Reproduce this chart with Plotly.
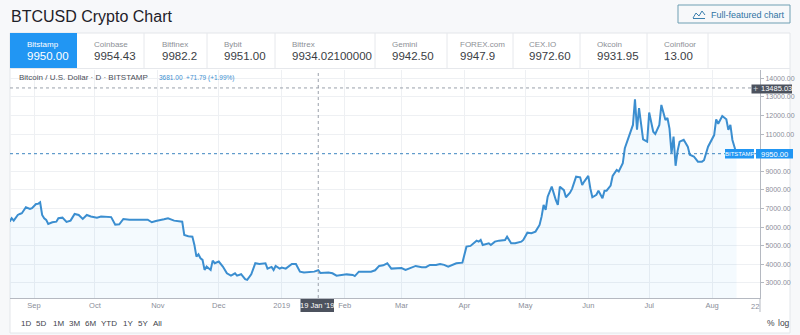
import plotly.graph_objects as go

# ---------------- data ----------------
dates = [
    "2018-08-20", "2018-08-21", "2018-08-22", "2018-08-24", "2018-08-25", "2018-08-26", "2018-08-28",
    "2018-08-30", "2018-08-31", "2018-09-02", "2018-09-03", "2018-09-04", "2018-09-05", "2018-09-06",
    "2018-09-07", "2018-09-08", "2018-09-10", "2018-09-12", "2018-09-13", "2018-09-15", "2018-09-17",
    "2018-09-19", "2018-09-21", "2018-09-23", "2018-09-25", "2018-09-27", "2018-09-29", "2018-10-02",
    "2018-10-04", "2018-10-07", "2018-10-09", "2018-10-11", "2018-10-13", "2018-10-15", "2018-10-18",
    "2018-10-23", "2018-10-27", "2018-10-29", "2018-10-31", "2018-11-04", "2018-11-06", "2018-11-09",
    "2018-11-13", "2018-11-14", "2018-11-16", "2018-11-18", "2018-11-19", "2018-11-20", "2018-11-21",
    "2018-11-22", "2018-11-23", "2018-11-24", "2018-11-25", "2018-11-27", "2018-11-28", "2018-11-29",
    "2018-12-01", "2018-12-03", "2018-12-05", "2018-12-07", "2018-12-09", "2018-12-10", "2018-12-12",
    "2018-12-14", "2018-12-15", "2018-12-17", "2018-12-19", "2018-12-21", "2018-12-24", "2018-12-25",
    "2018-12-27", "2018-12-28", "2018-12-29", "2018-12-31", "2019-01-01", "2019-01-03", "2019-01-06",
    "2019-01-08", "2019-01-10", "2019-01-12", "2019-01-15", "2019-01-17", "2019-01-19", "2019-01-20",
    "2019-01-24", "2019-01-26", "2019-01-28", "2019-02-02", "2019-02-05", "2019-02-06", "2019-02-08",
    "2019-02-10", "2019-02-14", "2019-02-16", "2019-02-18", "2019-02-20", "2019-02-22", "2019-02-24",
    "2019-02-27", "2019-03-01", "2019-03-03", "2019-03-06", "2019-03-08", "2019-03-11", "2019-03-13",
    "2019-03-15", "2019-03-18", "2019-03-20", "2019-03-22", "2019-03-24", "2019-03-28", "2019-03-31",
    "2019-04-02", "2019-04-04", "2019-04-05", "2019-04-07", "2019-04-08", "2019-04-09", "2019-04-10",
    "2019-04-12", "2019-04-13", "2019-04-14", "2019-04-16", "2019-04-18", "2019-04-21", "2019-04-22",
    "2019-04-24", "2019-04-26", "2019-04-29", "2019-04-30", "2019-05-02", "2019-05-04", "2019-05-06",
    "2019-05-08", "2019-05-09", "2019-05-10", "2019-05-11", "2019-05-12", "2019-05-14", "2019-05-16",
    "2019-05-17", "2019-05-18", "2019-05-20", "2019-05-21", "2019-05-23", "2019-05-24", "2019-05-26",
    "2019-05-28", "2019-05-29", "2019-05-30", "2019-06-01", "2019-06-02", "2019-06-03", "2019-06-05",
    "2019-06-06", "2019-06-08", "2019-06-09", "2019-06-10", "2019-06-12", "2019-06-13", "2019-06-15",
    "2019-06-16", "2019-06-18", "2019-06-19", "2019-06-21", "2019-06-23", "2019-06-24", "2019-06-25",
    "2019-06-26", "2019-06-27", "2019-06-28", "2019-06-30", "2019-07-01", "2019-07-03", "2019-07-04",
    "2019-07-06", "2019-07-07", "2019-07-09", "2019-07-10", "2019-07-11", "2019-07-12", "2019-07-13",
    "2019-07-14", "2019-07-15", "2019-07-16", "2019-07-18", "2019-07-20", "2019-07-21", "2019-07-23",
    "2019-07-25", "2019-07-27", "2019-07-28", "2019-07-30", "2019-08-02", "2019-08-03", "2019-08-04",
    "2019-08-06", "2019-08-08", "2019-08-09", "2019-08-10", "2019-08-11", "2019-08-13",
]
prices = [
    6296, 6480, 6350, 6656, 6710, 6747, 7070,
    6980, 7020, 7247, 7260, 7340, 6656, 6480,
    6390, 6172, 6263, 6296, 6478, 6510, 6280,
    6350, 6710, 6656, 6440, 6656, 6570, 6510,
    6570, 6570, 6540, 6136, 6150, 6440, 6400,
    6400, 6400, 6263, 6330, 6420, 6478, 6350,
    6296, 5580, 5510, 5490, 5043, 4414, 4540,
    4328, 4240, 3700, 3880, 3700, 4200, 4060,
    4150, 3880, 3520, 3393, 3520, 3393, 3470,
    3198, 3161, 3460, 4059, 4021, 4059, 3770,
    3860, 3700, 3914, 3770, 3830, 3770, 4021,
    4021, 3608, 3560, 3608, 3608, 3681, 3540,
    3560, 3520, 3393, 3460, 3430, 3370, 3608,
    3608, 3608, 3680, 3914, 3950, 4059, 3770,
    3790, 3800, 3700, 3830, 3914, 3850, 3850,
    3968, 3968, 4021, 3970, 3876, 4059, 4091,
    4952, 4990, 5080, 5274, 5220, 5312, 5043,
    5100, 5134, 5043, 5220, 5274, 5310, 5490,
    5134, 5134, 5220, 5312, 5704, 5670, 5760,
    6118, 6565, 7194, 6925, 7640, 8177, 7460,
    7194, 8177, 7990, 7608, 7850, 8060, 8715,
    8680, 8269, 8450, 8753, 8090, 7608, 7740,
    7962, 7554, 7960, 7960, 8230, 8753, 9075,
    8990, 9435, 10242, 10866, 11495, 12876, 11237,
    12403, 11670, 10725, 10597, 12167, 11134, 11010,
    11495, 12570, 11760, 11870, 11300, 9983, 10866,
    9300, 10100, 10597, 10700, 10330, 9892, 9800,
    9521, 9521, 9600, 10328, 10950, 11790, 11560,
    11978, 11800, 11237, 11495, 10688, 9950,
]

exchanges = ["Bitstamp", "Coinbase", "Bitfinex", "Bybit", "Bittrex", "Gemini",
             "FOREX.com", "CEX.IO", "Okcoin", "Coinfloor"]
exchange_prices = ["9950.00", "9954.43", "9982.2", "9951.00", "9934.02100000", "9942.50",
                   "9947.9", "9972.60", "9931.95", "13.00"]

month_ticks = ["2018-09-01", "2018-10-01", "2018-11-01", "2018-12-01", "2019-01-01", "2019-02-01",
               "2019-03-01", "2019-04-01", "2019-05-01", "2019-06-01", "2019-07-01", "2019-08-01"]
month_labels = ["Sep", "Oct", "Nov", "Dec", "2019", "Feb", "Mar", "Apr", "May", "Jun", "Jul", "Aug"]
end_tick = "2019-08-22"
end_label = "22"
# 10000 label is hidden behind the last-price marker in the reference
y_ticks = [3000, 4000, 5000, 6000, 7000, 8000, 9000, 11000, 12000, 13000, 14000]
y_labels = [f"{v:.2f}" for v in y_ticks]

last_price = 9950.00
cross_date = "2019-01-19"
cross_date_label = "19 Jan '19"
cross_price = 13485.03
legend_title = "Bitcoin / U.S. Dollar · D · BITSTAMP"
legend_vals = "3681.00  +71.79 (+1.99%)"
ranges = ["1D", "5D", "1M", "3M", "6M", "YTD", "1Y", "5Y", "All"]

# ---------------- layout helpers ----------------
W, H = 800, 335
FONT = "Liberation Sans"
LINE = "#3b8ed0"
GRID = "#eef0f3"
AXC = "#8a8e99"


def px(x):
    return x / W


def py(y):
    return 1 - y / H


PLOT_L, PLOT_R, PLOT_T, PLOT_B = 10, 760, 70, 298

fig = go.Figure()
fig.add_trace(go.Scatter(
    x=dates, y=prices, mode="lines",
    line=dict(color=LINE, width=2),
    fill="tozeroy", fillcolor="rgba(33,150,243,0.05)",
    hoverinfo="skip", showlegend=False,
))

shapes = []
annos = []

# page panel
shapes.append(dict(type="rect", xref="paper", yref="paper", x0=px(10), x1=px(790), y0=py(333), y1=py(33),
                   fillcolor="white", line=dict(color="#e3e6ea", width=1), layer="below"))

# tabs
tab_edges = [10, 77, 144, 207, 275, 375, 447, 513, 580, 647, 708, 790]
text_x = [25, 92, 160, 222, 290, 390, 458, 527, 595, 662]
shapes.append(dict(type="rect", xref="paper", yref="paper", x0=px(tab_edges[0]), x1=px(tab_edges[1]),
                   y0=py(68), y1=py(33), fillcolor="#2196f3", line=dict(width=0), layer="below"))
for e in tab_edges[2:-1]:
    shapes.append(dict(type="line", xref="paper", yref="paper", x0=px(e), x1=px(e), y0=py(68), y1=py(33),
                       line=dict(color="#e6e8ec", width=1), layer="below"))
shapes.append(dict(type="line", xref="paper", yref="paper", x0=px(10), x1=px(790), y0=py(68.5), y1=py(68.5),
                   line=dict(color="#e6e8ec", width=1), layer="below"))
for i, (n, v) in enumerate(zip(exchanges, exchange_prices)):
    sel = i == 0
    annos.append(dict(x=px(text_x[i]), y=py(44), text=n, showarrow=False, xanchor="left", yanchor="middle",
                      font=dict(family=FONT, size=8, color="white" if sel else "#8c8f96")))
    annos.append(dict(x=px(text_x[i]), y=py(56), text=v, showarrow=False, xanchor="left", yanchor="middle",
                      font=dict(family=FONT, size=11.5, color="white" if sel else "#3a3d44")))

# title
annos.append(dict(x=px(9), y=py(17), text="BTCUSD Crypto Chart", showarrow=False, xanchor="left",
                  yanchor="middle", font=dict(family=FONT, size=16, color="#1e2128")))

# full-featured button
shapes.append(dict(type="rect", xref="paper", yref="paper", x0=px(678), x1=px(790), y0=py(23), y1=py(5),
                   fillcolor="rgba(0,0,0,0)", line=dict(color="#6f9fb3", width=1)))
shapes.append(dict(type="path", xref="paper", yref="paper",
                   path=f"M {px(693)} {py(18)} L {px(696)} {py(13)} L {px(699)} {py(16)} L {px(702)} {py(11)} L {px(705)} {py(15)}",
                   line=dict(color="#3b7fae", width=1)))
shapes.append(dict(type="line", xref="paper", yref="paper", x0=px(693), x1=px(705), y0=py(18.5), y1=py(18.5),
                   line=dict(color="#3b7fae", width=1)))
annos.append(dict(x=px(709), y=py(14.5), text="Full-featured chart", showarrow=False, xanchor="left",
                  yanchor="middle", font=dict(family=FONT, size=9, color="#2f73a4")))

# legend text on chart
annos.append(dict(x=px(17), y=py(77.5), text=legend_title, showarrow=False, xanchor="left", yanchor="middle",
                  font=dict(family=FONT, size=8, color="#4a4e57")))
annos.append(dict(x=px(157), y=py(77.5), text=legend_vals, showarrow=False, xanchor="left", yanchor="middle",
                  font=dict(family=FONT, size=6.5, color="#3b8ed0")))

# last price line and labels
shapes.append(dict(type="line", xref="paper", yref="y", x0=px(PLOT_L), x1=px(PLOT_R), y0=last_price,
                   y1=last_price, line=dict(color="#3d86c0", width=1, dash="dot")))
shapes.append(dict(type="rect", xref="paper", yref="paper", x0=px(725), x1=px(754), y0=py(158.5), y1=py(149),
                   fillcolor="#2196f3", line=dict(width=0)))
annos.append(dict(x=px(739.5), y=py(154), text="BITSTAMP", showarrow=False, xanchor="center", yanchor="middle",
                  font=dict(family=FONT, size=6, color="white")))
shapes.append(dict(type="rect", xref="paper", yref="paper", x0=px(756), x1=px(793), y0=py(158.5), y1=py(149),
                   fillcolor="#2196f3", line=dict(width=0)))
annos.append(dict(x=px(774.5), y=py(154), text=f"{last_price:.2f}", showarrow=False, xanchor="center",
                  yanchor="middle", font=dict(family=FONT, size=7.5, color="white")))

# crosshair
shapes.append(dict(type="line", xref="x", yref="paper", x0=cross_date, x1=cross_date, y0=py(PLOT_B),
                   y1=py(PLOT_T), line=dict(color="#9aa0aa", width=1, dash="dot")))
shapes.append(dict(type="line", xref="paper", yref="y", x0=px(PLOT_L), x1=px(PLOT_R), y0=cross_price,
                   y1=cross_price, line=dict(color="#9aa0aa", width=1, dash="dot")))
shapes.append(dict(type="rect", xref="paper", yref="paper", x0=px(751.5), x1=px(792), y0=py(93.5), y1=py(84.5),
                   fillcolor="#4c525e", line=dict(width=0)))
annos.append(dict(x=px(755.5), y=py(89), text="+", showarrow=False, xanchor="center", yanchor="middle",
                  font=dict(family=FONT, size=9, color="#d0d3d9")))
annos.append(dict(x=px(776), y=py(89), text=f"{cross_price:.2f}", showarrow=False, xanchor="center",
                  yanchor="middle", font=dict(family=FONT, size=7.5, color="white")))
shapes.append(dict(type="rect", xref="paper", yref="paper", x0=px(300.5), x1=px(334), y0=py(312), y1=py(299),
                   fillcolor="#4c525e", line=dict(width=0)))
annos.append(dict(x=px(317.3), y=py(305.5), text=cross_date_label, showarrow=False, xanchor="center",
                  yanchor="middle", font=dict(family=FONT, size=7.5, color="white")))

# x-axis end label
annos.append(dict(x=end_tick, xref="x", y=py(306.7), yref="paper", text=end_label, showarrow=False,
                  xanchor="center", yanchor="middle", font=dict(family=FONT, size=7.5, color=AXC)))

# axis line extension
shapes.append(dict(type="line", xref="paper", yref="paper", x0=px(PLOT_R), x1=px(PLOT_R), y0=py(PLOT_B),
                   y1=py(312), line=dict(color="#b5b9c1", width=1)))

# bottom toolbar
range_x = [19, 34, 51, 67, 83, 99, 121, 136, 151]
for r, xx in zip(ranges, range_x):
    annos.append(dict(x=px(xx), y=py(323), text=r, showarrow=False, xanchor="left", yanchor="middle",
                      font=dict(family=FONT, size=8, color="#3e424a")))
annos.append(dict(x=px(765), y=py(323), text="%", showarrow=False, xanchor="left", yanchor="middle",
                  font=dict(family=FONT, size=8.5, color="#3e424a")))
annos.append(dict(x=px(776), y=py(323), text="log", showarrow=False, xanchor="left", yanchor="middle",
                  font=dict(family=FONT, size=8.5, color="#3e424a")))

for a in annos:
    a.setdefault("xref", "paper")
    a.setdefault("yref", "paper")

fig.update_layout(
    width=W, height=H,
    margin=dict(l=0, r=0, t=0, b=0),
    paper_bgcolor="#f7f8fa",
    plot_bgcolor="white",
    showlegend=False,
    shapes=shapes,
    annotations=annos,
    xaxis=dict(
        domain=[px(PLOT_L), px(PLOT_R)],
        range=["2018-08-20 04:00", "2019-08-24 14:00"],
        tickvals=month_ticks, ticktext=month_labels,
        showgrid=True, gridcolor=GRID, gridwidth=1,
        showline=True, linecolor="#b5b9c1", linewidth=1,
        ticks="", tickfont=dict(family=FONT, size=7.5, color=AXC),
        zeroline=False, fixedrange=True,
    ),
    yaxis=dict(
        domain=[py(PLOT_B), py(PLOT_T)],
        range=[2190, 14450],
        side="right",
        tickvals=y_ticks, ticktext=y_labels,
        showgrid=True, gridcolor=GRID, gridwidth=1,
        showline=True, linecolor="#b5b9c1", linewidth=1,
        ticks="outside", ticklen=3, tickcolor="#b5b9c1",
        tickfont=dict(family=FONT, size=7, color=AXC),
        zeroline=False, fixedrange=True,
    ),
)

fig.write_html("out.html")
